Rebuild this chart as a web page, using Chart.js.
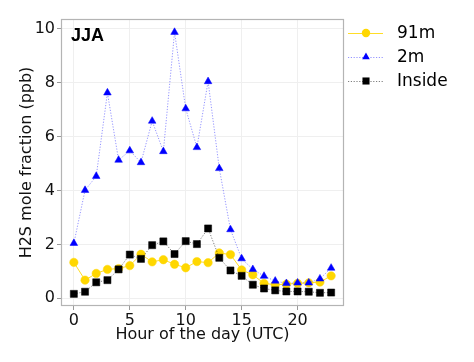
<!DOCTYPE html>
<html>
<head>
<meta charset="utf-8">
<script src="https://cdn.jsdelivr.net/npm/chart.js@4"></script>
<style>
  html, body { margin: 0; padding: 0; background: #fff; }
  #wrap { width: 474px; height: 362px; position: relative; }
</style>
</head>
<body>
<div id="wrap"><canvas id="c" width="474" height="362"></canvas></div>
<script>
const hours = [0,1,2,3,4,5,6,7,8,9,10,11,12,13,14,15,16,17,18,19,20,21,22,23];
const seriesNames = ['91m', '2m', 'Inside'];
const m91 = [1.33,0.67,0.92,1.07,1.10,1.21,1.63,1.35,1.43,1.26,1.13,1.36,1.32,1.68,1.62,1.05,0.87,0.55,0.50,0.52,0.55,0.57,0.60,0.83];
const m2 = [2.04,4.01,4.53,7.63,5.13,5.48,5.04,6.58,5.45,9.88,7.04,5.60,8.05,4.82,2.55,1.47,1.07,0.82,0.64,0.55,0.57,0.57,0.72,1.12];
const inside = [0.16,0.24,0.59,0.67,1.07,1.62,1.46,1.97,2.11,1.64,2.12,2.01,2.59,1.50,1.03,0.83,0.50,0.36,0.29,0.25,0.25,0.24,0.20,0.21];
const xTicks = [0,5,10,15,20];
const yTicks = [0,2,4,6,8,10];
const panelTitle = 'JJA';
const xTitle = 'Hour of the day (UTC)';
const yTitle = 'H2S mole fraction (ppb)';

const FONT = "'DejaVu Sans', sans-serif";

function pts(arr) { return hours.map((h, i) => ({x: h, y: arr[i]})); }

const styles = [
  {line: 'rgba(255,215,0,0.85)', marker: '#FFD700', dash: [], shape: 'circle', r: 4.2},
  {line: 'rgba(60,60,255,0.55)', marker: '#0000FF', dash: [1.2, 1.6], shape: 'triangle', r: 4.4},
  {line: 'rgba(0,0,0,0.5)', marker: '#000000', dash: [1.2, 1.6], shape: 'rect', r: 5.0}
];
const values = [m91, m2, inside];

const datasets = values.map((v, i) => ({
  label: seriesNames[i],
  data: pts(v),
  borderColor: styles[i].line,
  borderWidth: 1,
  borderDash: styles[i].dash,
  backgroundColor: styles[i].marker,
  pointBackgroundColor: styles[i].marker,
  pointBorderColor: styles[i].marker,
  pointBorderWidth: 0.5,
  pointStyle: styles[i].shape,
  pointRadius: styles[i].r,
  pointHoverRadius: styles[i].r,
  tension: 0,
  fill: false,
  order: 2 - i
}));

function marker(ctx, shape, x, y, r, color) {
  ctx.save();
  ctx.fillStyle = color;
  ctx.beginPath();
  if (shape === 'circle') {
    ctx.arc(x, y, r, 0, Math.PI * 2);
  } else if (shape === 'triangle') {
    ctx.moveTo(x, y - r);
    ctx.lineTo(x + Math.sin(2 * Math.PI / 3) * r, y - Math.cos(2 * Math.PI / 3) * r);
    ctx.lineTo(x + Math.sin(4 * Math.PI / 3) * r, y - Math.cos(4 * Math.PI / 3) * r);
    ctx.closePath();
  } else {
    const s = Math.SQRT1_2 * r;
    ctx.rect(x - s, y - s, 2 * s, 2 * s);
  }
  ctx.fill();
  ctx.restore();
}

const decor = {
  id: 'decor',
  beforeDatasetsDraw(chart) {
    const {ctx, chartArea: a} = chart;
    ctx.save();
    ctx.strokeStyle = '#b4b4b4';
    ctx.lineWidth = 1.2;
    ctx.strokeRect(a.left + 0.5, a.top + 0.5, a.right - a.left - 1, a.bottom - a.top - 1);
    ctx.restore();
  },
  afterDraw(chart) {
    const {ctx} = chart;
    ctx.save();
    ctx.fillStyle = '#000';
    ctx.font = "bold 18px 'Liberation Sans', Arial, sans-serif";
    ctx.textBaseline = 'alphabetic';
    ctx.textAlign = 'left';
    ctx.fillText(panelTitle, 71, 41);
    const rows = [33, 57, 81];
    ctx.font = '17px ' + FONT;
    ctx.textBaseline = 'middle';
    seriesNames.forEach((name, i) => {
      const y = rows[i];
      ctx.save();
      ctx.strokeStyle = styles[i].line;
      ctx.lineWidth = 1;
      ctx.setLineDash(styles[i].dash);
      ctx.beginPath();
      ctx.moveTo(348, y + 0.5);
      ctx.lineTo(383, y + 0.5);
      ctx.stroke();
      ctx.restore();
      marker(ctx, styles[i].shape, 366, y, styles[i].r, styles[i].marker);
      ctx.fillStyle = '#000';
      ctx.fillText(name, 397, y + 1);
    });
    ctx.restore();
  }
};

new Chart(document.getElementById('c'), {
  type: 'line',
  data: { datasets },
  options: {
    responsive: false,
    animation: false,
    devicePixelRatio: 1,
    layout: { padding: { left: 0, right: 130, top: 19, bottom: 0 } },
    plugins: { legend: { display: false }, tooltip: { enabled: false } },
    scales: {
      x: {
        type: 'linear',
        min: -1.15,
        max: 24.15,
        afterBuildTicks(s) { s.ticks = xTicks.map(v => ({value: v})); },
        afterFit(s) { s.height = 56; },
        grid: { color: '#efefef', lineWidth: 1, tickLength: 4, tickColor: '#999', drawTicks: true },
        border: { display: false },
        ticks: { color: '#111', font: { family: FONT, size: 16 }, padding: 1, maxRotation: 0 },
        title: { display: true, text: xTitle, color: '#111', font: { family: FONT, size: 16 }, padding: { top: 0, bottom: 18 } }
      },
      y: {
        type: 'linear',
        min: -0.29,
        max: 10.37,
        afterBuildTicks(s) { s.ticks = yTicks.map(v => ({value: v})); },
        afterFit(s) { s.width = 61; },
        grid: { color: '#efefef', lineWidth: 1, tickLength: 4, tickColor: '#999', drawTicks: true },
        border: { display: false },
        ticks: { color: '#111', font: { family: FONT, size: 16 }, padding: 2 },
        title: { display: true, text: yTitle, color: '#111', font: { family: FONT, size: 16 }, padding: { top: 17, bottom: 0 } }
      }
    }
  },
  plugins: [decor]
});
</script>
</body>
</html>
